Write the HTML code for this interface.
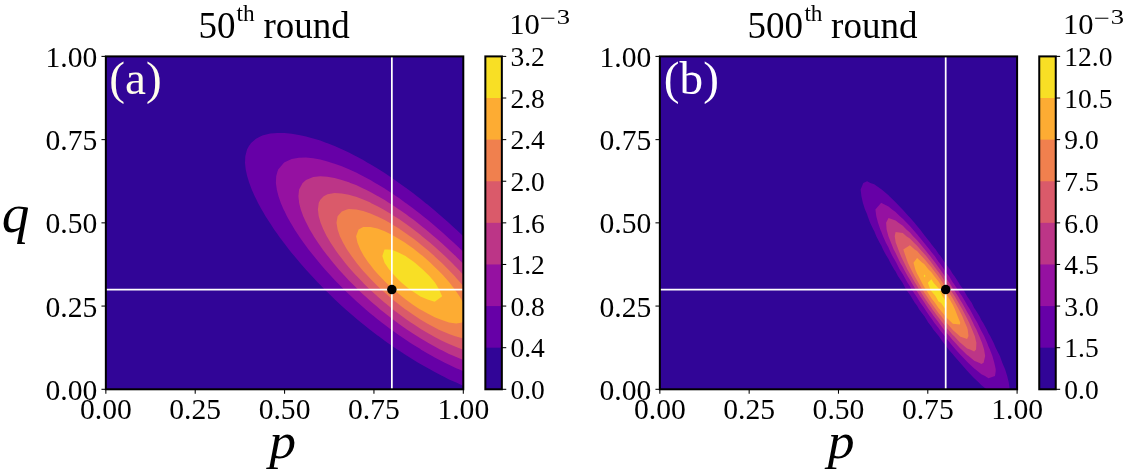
<!DOCTYPE html>
<html><head><meta charset="utf-8"><title>figure</title>
<style>html,body{margin:0;padding:0;background:#fff}svg{display:block}text{font-family:"Liberation Serif",serif;fill:#000}</style></head><body>
<svg width="1125" height="476" viewBox="0 0 1125 476">
<rect width="1125" height="476" fill="#fff"/>
<clipPath id="c0"><rect x="105.85" y="56.40" width="357.45" height="332.90"/></clipPath>
<rect x="105.85" y="56.40" width="357.45" height="332.90" fill="#310597"/>
<g clip-path="url(#c0)">
<path d="M477.6,236.2 L470.4,236.2 L463.3,236.2 L463.3,236.2 L456.2,229.5 L456.1,229.5 L449.0,223.0 L448.8,222.8 L441.9,216.7 L441.3,216.2 L434.7,210.5 L433.5,209.5 L427.6,204.6 L425.4,202.9 L420.4,198.8 L417.0,196.2 L413.3,193.2 L408.2,189.6 L406.1,187.9 L399.0,182.9 L399.0,182.9 L391.8,177.8 L389.4,176.2 L384.7,173.0 L379.1,169.6 L377.5,168.5 L370.4,164.2 L368.0,162.9 L363.2,160.0 L356.1,156.3 L356.0,156.3 L348.9,152.5 L342.4,149.6 L341.8,149.3 L334.6,146.0 L327.5,143.3 L326.5,143.0 L320.3,140.6 L313.2,138.4 L306.0,136.5 L305.0,136.3 L298.9,134.9 L291.7,133.7 L284.6,133.0 L277.4,133.0 L270.3,133.6 L263.1,135.3 L260.7,136.3 L256.0,138.8 L251.1,143.0 L248.8,146.2 L247.0,149.6 L245.3,156.3 L245.0,162.9 L245.7,169.6 L247.2,176.2 L248.8,181.4 L249.3,182.9 L251.7,189.6 L254.7,196.2 L256.0,198.7 L258.0,202.9 L261.6,209.5 L263.1,212.0 L265.5,216.2 L269.8,222.8 L270.3,223.5 L274.1,229.5 L277.4,234.0 L278.9,236.2 L283.8,242.8 L284.6,243.7 L288.9,249.5 L291.7,252.9 L294.3,256.1 L298.9,261.5 L299.9,262.8 L305.8,269.5 L306.0,269.7 L311.8,276.1 L313.2,277.6 L318.0,282.8 L320.3,285.1 L324.5,289.4 L327.5,292.3 L331.3,296.1 L334.6,299.2 L338.3,302.7 L341.8,305.9 L345.7,309.4 L348.9,312.3 L353.3,316.1 L356.1,318.4 L361.3,322.7 L363.2,324.3 L369.7,329.4 L370.4,329.9 L377.5,335.4 L378.4,336.0 L384.7,340.7 L387.5,342.7 L391.8,345.8 L397.2,349.4 L399.0,350.6 L406.1,355.2 L407.4,356.0 L413.3,359.8 L418.2,362.7 L420.4,364.0 L427.6,368.1 L429.9,369.3 L434.7,372.1 L441.9,375.7 L442.5,376.0 L449.0,379.4 L456.2,382.6 L456.3,382.6 L463.3,386.0 L470.4,386.0 L477.6,386.0Z" fill="#6600a7"/>
<path d="M477.6,251.9 L470.4,251.9 L463.3,251.9 L460.9,249.5 L456.2,245.0 L453.8,242.8 L449.0,238.4 L446.6,236.2 L441.9,231.9 L439.0,229.5 L434.7,225.7 L431.2,222.8 L427.6,219.8 L423.1,216.2 L420.4,214.0 L414.5,209.5 L413.3,208.5 L406.1,203.2 L405.6,202.9 L399.0,198.1 L396.2,196.2 L391.8,193.2 L386.1,189.6 L384.7,188.6 L377.5,184.2 L375.2,182.9 L370.4,180.0 L363.2,176.2 L363.2,176.2 L356.1,172.5 L349.4,169.6 L348.9,169.3 L341.8,166.3 L334.6,163.7 L332.1,162.9 L327.5,161.4 L320.3,159.6 L313.2,158.3 L306.0,157.6 L298.9,157.7 L291.7,159.1 L284.6,162.3 L283.7,162.9 L278.2,169.6 L277.4,171.8 L276.2,176.2 L275.9,182.9 L276.8,189.6 L277.4,191.9 L278.5,196.2 L280.8,202.9 L283.6,209.5 L284.6,211.3 L286.9,216.2 L290.6,222.8 L291.7,224.6 L294.6,229.5 L298.9,235.9 L299.0,236.2 L303.6,242.8 L306.0,246.0 L308.5,249.5 L313.2,255.3 L313.8,256.1 L319.3,262.8 L320.3,264.0 L325.0,269.5 L327.5,272.2 L331.0,276.1 L334.6,279.9 L337.3,282.8 L341.8,287.2 L344.0,289.4 L348.9,294.2 L350.9,296.1 L356.1,300.9 L358.1,302.7 L363.2,307.3 L365.7,309.4 L370.4,313.4 L373.6,316.1 L377.5,319.2 L382.0,322.7 L384.7,324.8 L390.9,329.4 L391.8,330.1 L399.0,335.2 L400.2,336.0 L406.1,340.1 L410.1,342.7 L413.3,344.8 L420.4,349.1 L420.8,349.4 L427.6,353.5 L432.2,356.0 L434.7,357.4 L441.9,361.2 L444.8,362.7 L449.0,364.8 L456.2,368.2 L458.9,369.3 L463.3,371.3 L470.4,371.3 L477.6,371.3Z" fill="#9511a1"/>
<path d="M477.6,263.8 L470.4,263.8 L463.3,263.8 L462.3,262.8 L456.2,256.7 L455.6,256.1 L449.0,249.9 L448.6,249.5 L441.9,243.3 L441.3,242.8 L434.7,237.0 L433.7,236.2 L427.6,231.0 L425.8,229.5 L420.4,225.2 L417.4,222.8 L413.3,219.6 L408.6,216.2 L406.1,214.3 L399.2,209.5 L399.0,209.4 L391.8,204.5 L389.1,202.9 L384.7,200.0 L378.1,196.2 L377.5,195.9 L370.4,191.9 L365.5,189.6 L363.2,188.4 L356.1,185.1 L350.4,182.9 L348.9,182.3 L341.8,179.9 L334.6,178.0 L327.5,176.7 L320.3,176.3 L313.2,177.0 L306.0,180.0 L302.6,182.9 L299.1,189.6 L298.9,191.1 L298.4,196.2 L298.9,200.8 L299.1,202.9 L300.8,209.5 L303.2,216.2 L306.0,222.3 L306.3,222.8 L309.7,229.5 L313.2,235.2 L313.7,236.2 L318.0,242.8 L320.3,246.0 L322.7,249.5 L327.5,255.7 L327.8,256.1 L333.1,262.8 L334.6,264.5 L338.8,269.5 L341.8,272.7 L344.8,276.1 L348.9,280.4 L351.2,282.8 L356.1,287.6 L357.9,289.4 L363.2,294.5 L365.0,296.1 L370.4,301.0 L372.4,302.7 L377.5,307.1 L380.2,309.4 L384.7,313.0 L388.5,316.1 L391.8,318.6 L397.4,322.7 L399.0,323.9 L406.1,328.9 L406.8,329.4 L413.3,333.7 L416.9,336.0 L420.4,338.3 L427.6,342.5 L427.9,342.7 L434.7,346.6 L440.0,349.4 L441.9,350.3 L449.0,353.9 L453.9,356.0 L456.2,357.1 L463.3,360.0 L470.4,360.0 L477.6,360.0Z" fill="#bc3587"/>
<path d="M477.6,274.7 L470.4,274.7 L463.3,274.7 L458.4,269.5 L456.2,267.2 L451.8,262.8 L449.0,260.0 L444.9,256.1 L441.9,253.3 L437.7,249.5 L434.7,246.8 L430.1,242.8 L427.6,240.7 L422.0,236.2 L420.4,234.8 L413.5,229.5 L413.3,229.3 L406.1,224.1 L404.3,222.8 L399.0,219.1 L394.4,216.2 L391.8,214.5 L384.7,210.2 L383.5,209.5 L377.5,206.2 L370.8,202.9 L370.4,202.6 L363.2,199.5 L356.1,196.8 L354.0,196.2 L348.9,194.7 L341.8,193.4 L334.6,193.0 L327.5,194.3 L323.7,196.2 L320.3,199.8 L318.7,202.9 L317.9,209.5 L318.7,216.2 L320.3,221.8 L320.6,222.8 L323.4,229.5 L326.7,236.2 L327.5,237.4 L330.6,242.8 L334.6,248.8 L335.0,249.5 L339.8,256.1 L341.8,258.6 L345.0,262.8 L348.9,267.4 L350.7,269.5 L356.1,275.4 L356.7,276.1 L363.1,282.8 L363.2,282.9 L369.8,289.4 L370.4,289.9 L377.1,296.1 L377.5,296.5 L384.7,302.7 L384.8,302.7 L391.8,308.5 L393.0,309.4 L399.0,314.0 L401.7,316.1 L406.1,319.2 L411.2,322.7 L413.3,324.1 L420.4,328.7 L421.6,329.4 L427.6,333.0 L433.0,336.0 L434.7,337.0 L441.9,340.7 L446.2,342.7 L449.0,344.0 L456.2,347.0 L462.6,349.4 L463.3,349.6 L470.4,349.6 L477.6,349.6Z" fill="#da5a6a"/>
<path d="M477.6,286.2 L470.4,286.2 L463.3,286.2 L460.5,282.8 L456.2,277.9 L454.6,276.1 L449.0,270.2 L448.3,269.5 L441.9,263.0 L441.6,262.8 L434.7,256.4 L434.5,256.1 L427.6,250.1 L426.9,249.5 L420.4,244.2 L418.7,242.8 L413.3,238.6 L409.9,236.2 L406.1,233.4 L400.3,229.5 L399.0,228.6 L391.8,224.2 L389.5,222.8 L384.7,220.1 L377.5,216.5 L376.7,216.2 L370.4,213.5 L363.2,211.1 L356.3,209.5 L356.1,209.5 L348.9,209.1 L346.9,209.5 L341.8,211.4 L337.6,216.2 L336.5,222.8 L337.6,229.5 L339.9,236.2 L341.8,240.0 L343.1,242.8 L347.0,249.5 L348.9,252.3 L351.5,256.1 L356.1,262.3 L356.4,262.8 L361.9,269.5 L363.2,270.9 L367.9,276.1 L370.4,278.7 L374.3,282.8 L377.5,285.9 L381.2,289.4 L384.7,292.5 L388.7,296.1 L391.8,298.7 L396.8,302.7 L399.0,304.5 L405.5,309.4 L406.1,309.8 L413.3,314.8 L415.2,316.1 L420.4,319.4 L425.9,322.7 L427.6,323.7 L434.7,327.6 L438.4,329.4 L441.9,331.1 L449.0,334.1 L454.5,336.0 L456.2,336.6 L463.3,338.4 L470.4,338.4 L477.6,338.4Z" fill="#f0804e"/>
<path d="M477.6,302.8 L470.4,302.8 L463.3,302.8 L463.3,302.7 L459.3,296.1 L456.2,291.4 L454.8,289.4 L449.6,282.8 L449.0,282.1 L443.7,276.1 L441.9,274.1 L437.3,269.5 L434.7,266.9 L430.4,262.8 L427.6,260.3 L422.8,256.1 L420.4,254.2 L414.5,249.5 L413.3,248.5 L406.1,243.4 L405.2,242.8 L399.0,238.9 L394.3,236.2 L391.8,234.7 L384.7,231.3 L380.1,229.5 L377.5,228.5 L370.4,226.9 L363.2,227.1 L358.6,229.5 L356.1,236.2 L357.5,242.8 L360.3,249.5 L363.2,254.8 L363.9,256.1 L368.5,262.8 L370.4,265.1 L373.8,269.5 L377.5,273.7 L379.7,276.1 L384.7,281.2 L386.2,282.8 L391.8,288.0 L393.4,289.4 L399.0,294.1 L401.4,296.1 L406.1,299.7 L410.2,302.7 L413.3,304.9 L420.1,309.4 L420.4,309.6 L427.6,313.6 L432.4,316.1 L434.7,317.2 L441.9,320.1 L449.0,322.5 L450.8,322.7 L456.2,323.4 L461.0,322.7 L463.3,321.9 L470.4,321.9 L477.6,321.9Z" fill="#fdac33"/>
<path d="M419.7,296.1 L420.4,296.5 L427.6,299.6 L434.7,301.7 L441.9,296.6 L442.0,296.1 L441.9,295.8 L439.1,289.4 L435.1,282.8 L434.7,282.3 L429.4,276.1 L427.6,274.2 L422.7,269.5 L420.4,267.4 L414.9,262.8 L413.3,261.5 L406.1,256.4 L405.6,256.1 L399.0,252.8 L391.8,249.7 L387.0,249.5 L384.7,249.4 L384.5,249.5 L382.3,256.1 L384.6,262.8 L384.7,262.9 L389.2,269.5 L391.8,272.5 L394.9,276.1 L399.0,280.2 L401.7,282.8 L406.1,286.5 L409.9,289.4 L413.3,291.8 L419.7,296.1Z" fill="#f8df25"/>
<line x1="391.86" y1="56.40" x2="391.86" y2="389.30" stroke="#fff" stroke-width="1.75"/>
<line x1="105.85" y1="289.58" x2="463.30" y2="289.58" stroke="#fff" stroke-width="1.75"/>
<circle cx="391.86" cy="289.58" r="4.75" fill="#000"/>
</g>
<line x1="105.85" y1="389.30" x2="105.85" y2="393.70" stroke="#000" stroke-width="1.05"/>
<text x="105.85" y="418.90" font-size="29.6" text-anchor="middle">0.00</text>
<line x1="101.45" y1="389.30" x2="105.85" y2="389.30" stroke="#000" stroke-width="1.05"/>
<text x="97.25" y="399.80" font-size="29.6" text-anchor="end">0.00</text>
<line x1="195.21" y1="389.30" x2="195.21" y2="393.70" stroke="#000" stroke-width="1.05"/>
<text x="195.21" y="418.90" font-size="29.6" text-anchor="middle">0.25</text>
<line x1="101.45" y1="306.07" x2="105.85" y2="306.07" stroke="#000" stroke-width="1.05"/>
<text x="97.25" y="316.57" font-size="29.6" text-anchor="end">0.25</text>
<line x1="284.58" y1="389.30" x2="284.58" y2="393.70" stroke="#000" stroke-width="1.05"/>
<text x="284.58" y="418.90" font-size="29.6" text-anchor="middle">0.50</text>
<line x1="101.45" y1="222.85" x2="105.85" y2="222.85" stroke="#000" stroke-width="1.05"/>
<text x="97.25" y="233.35" font-size="29.6" text-anchor="end">0.50</text>
<line x1="373.94" y1="389.30" x2="373.94" y2="393.70" stroke="#000" stroke-width="1.05"/>
<text x="373.94" y="418.90" font-size="29.6" text-anchor="middle">0.75</text>
<line x1="101.45" y1="139.62" x2="105.85" y2="139.62" stroke="#000" stroke-width="1.05"/>
<text x="97.25" y="150.12" font-size="29.6" text-anchor="end">0.75</text>
<line x1="463.30" y1="389.30" x2="463.30" y2="393.70" stroke="#000" stroke-width="1.05"/>
<text x="463.30" y="418.90" font-size="29.6" text-anchor="middle">1.00</text>
<line x1="101.45" y1="56.40" x2="105.85" y2="56.40" stroke="#000" stroke-width="1.05"/>
<text x="97.25" y="66.90" font-size="29.6" text-anchor="end">1.00</text>
<rect x="105.85" y="56.40" width="357.45" height="332.90" fill="none" stroke="#000" stroke-width="2.00"/>
<rect x="485.35" y="56.40" width="16.50" height="332.90" fill="#310597"/>
<rect x="485.35" y="56.40" width="16.50" height="291.29" fill="#6600a7"/>
<rect x="485.35" y="56.40" width="16.50" height="249.67" fill="#9511a1"/>
<rect x="485.35" y="56.40" width="16.50" height="208.06" fill="#bc3587"/>
<rect x="485.35" y="56.40" width="16.50" height="166.45" fill="#da5a6a"/>
<rect x="485.35" y="56.40" width="16.50" height="124.84" fill="#f0804e"/>
<rect x="485.35" y="56.40" width="16.50" height="83.22" fill="#fdac33"/>
<rect x="485.35" y="56.40" width="16.50" height="41.61" fill="#f8df25"/>
<rect x="485.35" y="56.40" width="16.50" height="332.90" fill="none" stroke="#000" stroke-width="2.00"/>
<line x1="501.85" y1="389.30" x2="506.25" y2="389.30" stroke="#000" stroke-width="1.05"/>
<text x="510.45" y="399.00" font-size="27.5">0.0</text>
<line x1="501.85" y1="347.69" x2="506.25" y2="347.69" stroke="#000" stroke-width="1.05"/>
<text x="510.45" y="357.39" font-size="27.5">0.4</text>
<line x1="501.85" y1="306.07" x2="506.25" y2="306.07" stroke="#000" stroke-width="1.05"/>
<text x="510.45" y="315.77" font-size="27.5">0.8</text>
<line x1="501.85" y1="264.46" x2="506.25" y2="264.46" stroke="#000" stroke-width="1.05"/>
<text x="510.45" y="274.16" font-size="27.5">1.2</text>
<line x1="501.85" y1="222.85" x2="506.25" y2="222.85" stroke="#000" stroke-width="1.05"/>
<text x="510.45" y="232.55" font-size="27.5">1.6</text>
<line x1="501.85" y1="181.24" x2="506.25" y2="181.24" stroke="#000" stroke-width="1.05"/>
<text x="510.45" y="190.94" font-size="27.5">2.0</text>
<line x1="501.85" y1="139.62" x2="506.25" y2="139.62" stroke="#000" stroke-width="1.05"/>
<text x="510.45" y="149.32" font-size="27.5">2.4</text>
<line x1="501.85" y1="98.01" x2="506.25" y2="98.01" stroke="#000" stroke-width="1.05"/>
<text x="510.45" y="107.71" font-size="27.5">2.8</text>
<line x1="501.85" y1="56.40" x2="506.25" y2="56.40" stroke="#000" stroke-width="1.05"/>
<text x="510.45" y="66.10" font-size="27.5">3.2</text>
<text><tspan x="509.15" y="34.3" font-size="30" textLength="30.6" lengthAdjust="spacingAndGlyphs">10</tspan><tspan x="539.75" y="25" font-size="21" textLength="16" lengthAdjust="spacingAndGlyphs">−</tspan><tspan x="556.75" y="24.2" font-size="21.5" textLength="13.3" lengthAdjust="spacingAndGlyphs">3</tspan></text>
<text x="109.25" y="93.60" font-size="47.2" style="fill:#fffeec">(a)</text>
<clipPath id="c1"><rect x="659.85" y="56.40" width="357.25" height="332.90"/></clipPath>
<rect x="659.85" y="56.40" width="357.25" height="332.90" fill="#310597"/>
<g clip-path="url(#c1)">
<path d="M995.6,396.0 L995.7,396.0 L1002.8,398.9 L1008.4,396.0 L1009.7,389.3 L1008.8,382.6 L1007.2,376.0 L1005.1,369.3 L1002.8,364.1 L1002.3,362.7 L999.9,356.0 L996.6,349.4 L995.7,347.7 L993.6,342.7 L990.2,336.0 L988.5,333.3 L986.8,329.4 L983.1,322.7 L981.4,320.2 L979.4,316.1 L975.3,309.4 L974.2,307.9 L971.7,302.7 L967.1,296.3 L967.0,296.1 L963.4,289.4 L959.9,284.8 L958.8,282.8 L954.4,276.1 L952.8,274.1 L950.1,269.5 L945.6,263.8 L945.0,262.8 L940.5,256.1 L938.5,253.7 L935.7,249.5 L931.4,244.2 L930.4,242.8 L925.2,236.2 L924.2,235.0 L920.1,229.5 L917.1,225.9 L914.5,222.8 L909.9,217.6 L908.6,216.2 L902.8,209.8 L902.5,209.5 L896.3,202.9 L895.6,202.2 L889.4,196.2 L888.5,195.2 L881.7,189.6 L881.3,189.2 L874.2,184.2 L870.4,182.9 L867.1,181.3 L863.3,182.9 L860.6,189.6 L861.4,196.2 L862.9,202.9 L865.0,209.5 L867.1,214.3 L867.7,216.2 L870.1,222.8 L873.3,229.5 L874.2,231.1 L876.3,236.2 L879.6,242.8 L881.3,245.6 L883.0,249.5 L886.6,256.1 L888.5,259.0 L890.3,262.8 L894.2,269.5 L895.6,271.5 L897.9,276.1 L902.5,282.8 L902.8,283.2 L906.0,289.4 L909.9,294.7 L910.7,296.1 L914.8,302.7 L917.1,305.7 L919.2,309.4 L924.2,315.9 L924.3,316.1 L928.4,322.7 L931.4,326.4 L933.3,329.4 L938.5,335.7 L938.7,336.0 L943.4,342.7 L945.6,345.4 L948.6,349.4 L952.8,354.3 L954.2,356.0 L959.9,362.5 L960.1,362.7 L965.8,369.3 L967.1,370.7 L972.0,376.0 L974.2,378.3 L978.8,382.6 L981.4,385.2 L986.4,389.3 L988.5,391.2 L995.6,396.0Z" fill="#6600a7"/>
<path d="M985.0,376.0 L988.5,378.2 L995.0,376.0 L995.7,371.2 L995.7,369.3 L995.7,369.1 L994.3,362.7 L992.4,356.0 L989.9,349.4 L988.5,346.5 L987.1,342.7 L984.1,336.0 L981.4,331.0 L980.6,329.4 L977.4,322.7 L974.2,317.5 L973.5,316.1 L970.0,309.4 L967.1,305.0 L965.9,302.7 L961.9,296.1 L959.9,293.3 L957.7,289.4 L953.1,282.8 L952.8,282.4 L949.0,276.1 L945.6,271.7 L944.2,269.5 L939.4,262.8 L938.5,261.7 L934.7,256.1 L931.4,252.0 L929.5,249.5 L924.2,243.1 L924.0,242.8 L918.7,236.2 L917.1,234.3 L912.9,229.5 L909.9,226.1 L906.7,222.8 L902.8,218.7 L899.9,216.2 L895.6,212.0 L892.1,209.5 L888.5,206.4 L881.5,202.9 L881.3,202.8 L881.0,202.9 L875.4,209.5 L876.3,216.2 L878.0,222.8 L880.3,229.5 L881.3,231.7 L883.0,236.2 L885.9,242.8 L888.5,247.6 L889.3,249.5 L892.4,256.1 L895.6,261.5 L896.3,262.8 L899.7,269.5 L902.8,274.2 L903.8,276.1 L907.5,282.8 L909.9,286.2 L911.7,289.4 L916.1,296.1 L917.1,297.4 L920.3,302.7 L924.2,308.1 L925.1,309.4 L929.5,316.1 L931.4,318.4 L934.3,322.7 L938.5,328.0 L939.5,329.4 L944.6,336.0 L945.7,337.3 L949.9,342.7 L952.8,346.2 L955.6,349.4 L959.9,354.3 L961.6,356.0 L967.1,361.8 L968.1,362.7 L974.2,368.6 L975.3,369.3 L981.4,374.3 L985.0,376.0Z" fill="#9511a1"/>
<path d="M979.0,362.7 L981.4,364.0 L983.6,362.7 L985.2,356.0 L984.1,349.4 L982.0,342.7 L981.4,341.3 L979.2,336.0 L976.4,329.4 L974.2,325.4 L973.0,322.7 L969.6,316.1 L967.1,311.9 L965.8,309.4 L962.0,302.7 L959.9,299.6 L957.9,296.1 L953.7,289.4 L952.8,288.2 L949.4,282.8 L945.6,277.5 L944.7,276.1 L940.2,269.5 L938.5,267.3 L935.3,262.8 L931.4,257.7 L930.1,256.1 L924.8,249.5 L924.2,248.8 L919.2,242.8 L917.1,240.3 L913.1,236.2 L909.9,232.6 L906.4,229.5 L902.8,225.8 L898.5,222.8 L895.6,220.4 L888.5,218.1 L886.1,222.8 L886.6,229.5 L888.4,236.2 L888.5,236.4 L891.0,242.8 L893.7,249.5 L895.6,253.1 L897.0,256.1 L900.2,262.8 L902.8,267.1 L904.0,269.5 L907.6,276.1 L909.9,279.7 L911.6,282.8 L915.7,289.4 L917.1,291.4 L919.9,296.1 L924.2,302.3 L924.5,302.7 L928.9,309.4 L931.4,312.7 L933.7,316.1 L938.5,322.3 L938.8,322.7 L943.8,329.4 L945.6,331.6 L949.3,336.0 L952.8,340.2 L955.2,342.7 L959.9,348.0 L961.5,349.4 L967.1,355.0 L968.6,356.0 L974.2,360.7 L979.0,362.7Z" fill="#bc3587"/>
<path d="M970.0,349.4 L974.2,351.4 L976.1,349.4 L976.4,342.7 L974.8,336.0 L974.2,334.7 L972.1,329.4 L969.2,322.7 L967.1,318.6 L965.8,316.1 L962.4,309.4 L959.9,305.3 L958.5,302.7 L954.6,296.1 L952.8,293.4 L950.3,289.4 L945.9,282.8 L945.6,282.4 L941.4,276.1 L938.5,272.1 L936.5,269.5 L931.5,262.8 L931.4,262.6 L926.2,256.1 L924.2,253.7 L920.3,249.5 L917.1,245.7 L914.0,242.8 L909.9,238.6 L906.4,236.2 L902.8,233.0 L895.6,232.0 L894.7,236.2 L895.6,242.0 L895.8,242.8 L898.3,249.5 L900.9,256.1 L902.8,259.9 L904.2,262.8 L907.4,269.5 L909.9,273.8 L911.2,276.1 L915.0,282.8 L917.1,286.1 L919.1,289.4 L923.3,296.1 L924.2,297.4 L927.8,302.7 L931.4,307.8 L932.5,309.4 L937.3,316.1 L938.5,317.6 L942.5,322.7 L945.6,326.7 L948.1,329.4 L952.8,335.0 L954.0,336.0 L959.9,342.4 L960.4,342.7 L967.1,348.4 L970.0,349.4Z" fill="#da5a6a"/>
<path d="M959.6,336.0 L959.9,336.4 L967.1,339.1 L968.5,336.0 L967.7,329.4 L967.1,327.6 L965.0,322.7 L962.2,316.1 L959.9,311.4 L958.9,309.4 L955.2,302.7 L952.8,298.6 L951.2,296.1 L947.2,289.4 L945.6,287.2 L942.6,282.8 L938.5,276.8 L938.0,276.1 L933.0,269.5 L931.4,267.2 L927.5,262.8 L924.2,258.7 L921.5,256.1 L917.1,251.1 L914.7,249.5 L909.9,245.2 L903.3,249.5 L905.5,256.1 L907.9,262.8 L909.9,267.1 L911.1,269.5 L914.5,276.1 L917.1,280.6 L918.4,282.8 L922.3,289.4 L924.2,292.4 L926.7,296.1 L931.0,302.7 L931.4,303.2 L935.9,309.4 L938.5,313.0 L941.1,316.1 L945.6,321.9 L946.5,322.7 L952.4,329.4 L952.8,329.9 L959.6,336.0Z" fill="#f0804e"/>
<path d="M951.9,322.7 L952.8,323.8 L959.9,324.5 L960.2,322.7 L959.9,321.8 L957.5,316.1 L955.0,309.4 L952.8,304.8 L951.6,302.7 L947.8,296.1 L945.6,292.5 L943.5,289.4 L939.3,282.8 L938.5,281.6 L934.1,276.1 L931.4,272.3 L928.5,269.5 L924.2,264.0 L922.3,262.8 L917.1,257.9 L913.5,262.8 L915.3,269.5 L917.1,273.8 L918.4,276.1 L921.9,282.8 L924.2,286.9 L925.9,289.4 L930.0,296.1 L931.4,298.2 L934.9,302.7 L938.5,308.0 L939.9,309.4 L945.1,316.1 L945.6,316.8 L951.9,322.7Z" fill="#fdac33"/>
<path d="M945.6,309.4 L945.6,309.5 L945.8,309.4 L946.6,302.7 L945.6,300.6 L942.3,296.1 L939.2,289.4 L938.5,288.2 L933.5,282.8 L931.4,279.3 L927.9,282.8 L930.3,289.4 L931.4,291.3 L935.5,296.1 L938.5,301.5 L941.0,302.7 L945.6,309.4ZM923.8,276.1 L924.2,277.3 L925.6,276.1 L924.2,274.4 L923.8,276.1Z" fill="#f8df25"/>
<line x1="945.70" y1="56.40" x2="945.70" y2="389.30" stroke="#fff" stroke-width="1.75"/>
<line x1="659.85" y1="289.58" x2="1017.10" y2="289.58" stroke="#fff" stroke-width="1.75"/>
<circle cx="945.70" cy="289.58" r="4.75" fill="#000"/>
</g>
<line x1="659.85" y1="389.30" x2="659.85" y2="393.70" stroke="#000" stroke-width="1.05"/>
<text x="659.85" y="418.90" font-size="29.6" text-anchor="middle">0.00</text>
<line x1="655.45" y1="389.30" x2="659.85" y2="389.30" stroke="#000" stroke-width="1.05"/>
<text x="651.25" y="399.80" font-size="29.6" text-anchor="end">0.00</text>
<line x1="749.16" y1="389.30" x2="749.16" y2="393.70" stroke="#000" stroke-width="1.05"/>
<text x="749.16" y="418.90" font-size="29.6" text-anchor="middle">0.25</text>
<line x1="655.45" y1="306.07" x2="659.85" y2="306.07" stroke="#000" stroke-width="1.05"/>
<text x="651.25" y="316.57" font-size="29.6" text-anchor="end">0.25</text>
<line x1="838.48" y1="389.30" x2="838.48" y2="393.70" stroke="#000" stroke-width="1.05"/>
<text x="838.48" y="418.90" font-size="29.6" text-anchor="middle">0.50</text>
<line x1="655.45" y1="222.85" x2="659.85" y2="222.85" stroke="#000" stroke-width="1.05"/>
<text x="651.25" y="233.35" font-size="29.6" text-anchor="end">0.50</text>
<line x1="927.79" y1="389.30" x2="927.79" y2="393.70" stroke="#000" stroke-width="1.05"/>
<text x="927.79" y="418.90" font-size="29.6" text-anchor="middle">0.75</text>
<line x1="655.45" y1="139.62" x2="659.85" y2="139.62" stroke="#000" stroke-width="1.05"/>
<text x="651.25" y="150.12" font-size="29.6" text-anchor="end">0.75</text>
<line x1="1017.10" y1="389.30" x2="1017.10" y2="393.70" stroke="#000" stroke-width="1.05"/>
<text x="1017.10" y="418.90" font-size="29.6" text-anchor="middle">1.00</text>
<line x1="655.45" y1="56.40" x2="659.85" y2="56.40" stroke="#000" stroke-width="1.05"/>
<text x="651.25" y="66.90" font-size="29.6" text-anchor="end">1.00</text>
<rect x="659.85" y="56.40" width="357.25" height="332.90" fill="none" stroke="#000" stroke-width="2.00"/>
<rect x="1039.25" y="56.40" width="16.50" height="332.90" fill="#310597"/>
<rect x="1039.25" y="56.40" width="16.50" height="291.29" fill="#6600a7"/>
<rect x="1039.25" y="56.40" width="16.50" height="249.67" fill="#9511a1"/>
<rect x="1039.25" y="56.40" width="16.50" height="208.06" fill="#bc3587"/>
<rect x="1039.25" y="56.40" width="16.50" height="166.45" fill="#da5a6a"/>
<rect x="1039.25" y="56.40" width="16.50" height="124.84" fill="#f0804e"/>
<rect x="1039.25" y="56.40" width="16.50" height="83.22" fill="#fdac33"/>
<rect x="1039.25" y="56.40" width="16.50" height="41.61" fill="#f8df25"/>
<rect x="1039.25" y="56.40" width="16.50" height="332.90" fill="none" stroke="#000" stroke-width="2.00"/>
<line x1="1055.75" y1="389.30" x2="1060.15" y2="389.30" stroke="#000" stroke-width="1.05"/>
<text x="1064.35" y="399.00" font-size="27.5">0.0</text>
<line x1="1055.75" y1="347.69" x2="1060.15" y2="347.69" stroke="#000" stroke-width="1.05"/>
<text x="1064.35" y="357.39" font-size="27.5">1.5</text>
<line x1="1055.75" y1="306.07" x2="1060.15" y2="306.07" stroke="#000" stroke-width="1.05"/>
<text x="1064.35" y="315.77" font-size="27.5">3.0</text>
<line x1="1055.75" y1="264.46" x2="1060.15" y2="264.46" stroke="#000" stroke-width="1.05"/>
<text x="1064.35" y="274.16" font-size="27.5">4.5</text>
<line x1="1055.75" y1="222.85" x2="1060.15" y2="222.85" stroke="#000" stroke-width="1.05"/>
<text x="1064.35" y="232.55" font-size="27.5">6.0</text>
<line x1="1055.75" y1="181.24" x2="1060.15" y2="181.24" stroke="#000" stroke-width="1.05"/>
<text x="1064.35" y="190.94" font-size="27.5">7.5</text>
<line x1="1055.75" y1="139.62" x2="1060.15" y2="139.62" stroke="#000" stroke-width="1.05"/>
<text x="1064.35" y="149.32" font-size="27.5">9.0</text>
<line x1="1055.75" y1="98.01" x2="1060.15" y2="98.01" stroke="#000" stroke-width="1.05"/>
<text x="1064.35" y="107.71" font-size="27.5">10.5</text>
<line x1="1055.75" y1="56.40" x2="1060.15" y2="56.40" stroke="#000" stroke-width="1.05"/>
<text x="1064.35" y="66.10" font-size="27.5">12.0</text>
<text><tspan x="1063.05" y="34.3" font-size="30" textLength="30.6" lengthAdjust="spacingAndGlyphs">10</tspan><tspan x="1093.65" y="25" font-size="21" textLength="16" lengthAdjust="spacingAndGlyphs">−</tspan><tspan x="1110.65" y="24.2" font-size="21.5" textLength="13.3" lengthAdjust="spacingAndGlyphs">3</tspan></text>
<text x="663.85" y="93.60" font-size="47.2" style="fill:#fff">(b)</text>
<text y="38" font-size="37"><tspan x="198.5">50</tspan><tspan x="236.6" dy="-16.6" font-size="23.2">th </tspan><tspan x="263.4" dy="16.6">round</tspan></text>
<text y="38" font-size="37"><tspan x="747.6">500</tspan><tspan x="804.4" dy="-16.6" font-size="23.2">th </tspan><tspan x="831.1" dy="16.6">round</tspan></text>
<text x="269.3" y="458" font-size="50.7" font-style="italic" textLength="26.8" lengthAdjust="spacingAndGlyphs">p</text>
<text x="827.7" y="458" font-size="50.7" font-style="italic" textLength="26.8" lengthAdjust="spacingAndGlyphs">p</text>
<text x="1.8" y="231.8" font-size="55.3" font-style="italic">q</text>
</svg></body></html>
